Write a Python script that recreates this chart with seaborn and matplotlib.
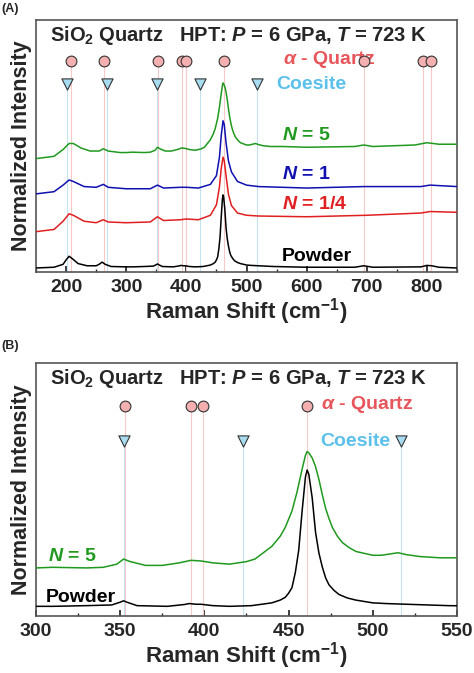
import numpy as np
import pandas as pd
import seaborn as sns
import matplotlib
matplotlib.use("Agg")
import matplotlib.pyplot as plt
from matplotlib.ticker import MultipleLocator

sns.set_theme(style="white")
plt.rcParams['font.family'] = ['Liberation Sans', 'DejaVu Sans']
plt.rcParams['font.weight'] = 'bold'
plt.rcParams['mathtext.fontset'] = 'custom'
plt.rcParams['mathtext.it'] = 'Liberation Sans:italic:bold'
plt.rcParams['mathtext.rm'] = 'Liberation Sans:bold'
plt.rcParams['mathtext.bf'] = 'Liberation Sans:bold'

# normalized spectra (peak at 461 = 1)
powder_x = [150,180,195,200,205,210,220,235,250,255,260,265,275,300,310,330,345,350,352,354,360,378,388,391,395,398,405,415,428,440,445,448,450,452,454,456,458,460,461,462,464,466,468,470,472,474,477,480,485,490,495,500,508,520,545,600,680,695,710,790,800,808,820,850]
powder_y = [0.0,0.01,0.05,0.11,0.16,0.13,0.06,0.03,0.03,0.05,0.08,0.05,0.02,0.015,0.015,0.02,0.025,0.045,0.055,0.045,0.02,0.015,0.028,0.035,0.03,0.03,0.02,0.015,0.02,0.04,0.06,0.08,0.11,0.15,0.26,0.42,0.7,0.95,1.0,0.97,0.8,0.55,0.4,0.3,0.22,0.17,0.13,0.1,0.075,0.06,0.05,0.04,0.035,0.03,0.02,0.01,0.01,0.03,0.01,0.015,0.035,0.03,0.01,0.0]
n5_x = [150,180,195,205,212,225,240,255,262,270,290,300,310,330,340,348,352,356,365,375,385,392,398,405,415,425,430,435,440,445,448,452,455,458,460,461,462,464,466,468,470,472,474,476,479,482,486,490,495,500,505,510,515,520,528,540,560,600,680,695,710,780,800,820,850]
n5_y = [0.0,0.03,0.12,0.2,0.2,0.14,0.1,0.1,0.13,0.1,0.08,0.08,0.085,0.08,0.085,0.11,0.15,0.13,0.1,0.1,0.12,0.14,0.135,0.12,0.11,0.13,0.15,0.2,0.25,0.33,0.4,0.53,0.68,0.86,0.97,1.0,0.99,0.95,0.88,0.78,0.66,0.55,0.47,0.4,0.33,0.28,0.24,0.21,0.195,0.18,0.18,0.19,0.2,0.185,0.17,0.16,0.16,0.15,0.16,0.18,0.16,0.18,0.21,0.19,0.19]
n1_x = [150,180,195,205,212,230,250,262,270,300,340,352,362,390,400,420,440,450,455,458,461,463,466,470,475,485,500,520,600,695,790,805,850]
n1_y = [0.0,0.03,0.12,0.19,0.17,0.1,0.09,0.13,0.09,0.07,0.07,0.12,0.08,0.09,0.09,0.08,0.13,0.25,0.5,0.8,1.0,0.95,0.7,0.45,0.3,0.17,0.12,0.1,0.08,0.1,0.1,0.12,0.1]
n14_x = [150,180,195,205,212,230,250,262,270,300,340,352,362,390,400,420,440,450,455,458,461,463,466,470,475,485,500,520,600,700,790,805,850]
n14_y = [0.0,0.03,0.14,0.24,0.22,0.14,0.12,0.16,0.13,0.12,0.13,0.2,0.15,0.16,0.17,0.16,0.22,0.36,0.6,0.85,1.0,0.95,0.75,0.5,0.35,0.25,0.22,0.21,0.2,0.22,0.25,0.27,0.26]

quartz_a = [208,263,353,392,400,462,695,794,807]
coesite_a = [201,268,352,423,517]
quartz_b = [353,392,399,461]
coesite_b = [352,423,517]

c_green, c_blue, c_red, c_black = '#1f9a1f', '#1010b0', '#e02020', 'black'
c_c = '#5bc0eb'
c_qfill, c_cfill = '#f4b0b0', '#a8dcf0'

fig = plt.figure(figsize=(4.74, 6.73), dpi=100)
axA = fig.add_axes([36/474, 1-272/673, 421/474, 252/673])
axB = fig.add_axes([36/474, 1-616/673, 421/474, 253/673])

def draw(ax, specs, quartz, coes, qy, cy, xlim):
    for q in quartz:
        ax.plot([q, q], [0, qy], color='#f6c8c8', lw=0.8, zorder=1)
    for c in coes:
        ax.plot([c, c], [0, cy], color='#c4e2f0', lw=0.8, zorder=1)
    for x, y, base, sc, col in specs:
        d = pd.DataFrame({'x': x, 'y': base + sc*np.array(y)})
        sns.lineplot(data=d, x='x', y='y', ax=ax, color=col, lw=1.1, zorder=3)
    sns.scatterplot(x=quartz, y=[qy]*len(quartz), ax=ax, marker='o', s=60,
                    color=c_qfill, edgecolor='#333333', linewidth=0.8, zorder=4)
    sns.scatterplot(x=coes, y=[cy]*len(coes), ax=ax, marker='v', s=65,
                    color=c_cfill, edgecolor='#333333', linewidth=0.8, zorder=4)
    ax.set_xlim(*xlim); ax.set_ylim(0, 1)
    ax.set_yticks([])
    ax.set_xlabel('Raman Shift (cm$^{\\mathbf{-1}}$)', fontsize=16, fontweight='bold', labelpad=0)
    ax.set_ylabel('Normalized Intensity', fontsize=15.5, fontweight='bold', labelpad=3)
    ax.tick_params(axis='x', direction='in', length=4, which='major', labelsize=14, bottom=True, pad=5)
    ax.tick_params(axis='x', direction='in', length=2.5, which='minor', bottom=True)
    for s in ax.spines.values():
        s.set_color('#555555'); s.set_linewidth(1.2)
    ax.text(0.033, 0.94, 'SiO$_\\mathbf{2}$ Quartz   HPT: $P$ = 6 GPa, $T$ = 723 K',
            transform=ax.transAxes, fontsize=14.5, fontweight='bold', va='center')

draw(axA, [(powder_x, powder_y, 0.016, 0.29, c_black),
           (n14_x, n14_y, 0.16, 0.296, c_red),
           (n1_x, n1_y, 0.31, 0.29, c_blue),
           (n5_x, n5_y, 0.45, 0.30, c_green)],
     quartz_a, coesite_a, 0.837, 0.746, (150, 850))
axA.xaxis.set_major_locator(MultipleLocator(100))
axA.xaxis.set_minor_locator(MultipleLocator(50))
axA.text(561, 0.845, '$\\alpha$ - Quartz', color='#e8555a', fontsize=14, fontweight='bold', va='center')
axA.text(550, 0.746, 'Coesite', color=c_c, fontsize=14, fontweight='bold', va='center')
axA.text(559, 0.54, '$N$ = 5', color=c_green, fontsize=14, fontweight='bold', va='center')
axA.text(559, 0.385, '$N$ = 1', color=c_blue, fontsize=14, fontweight='bold', va='center')
axA.text(559, 0.266, '$N$ = 1/4', color=c_red, fontsize=14, fontweight='bold', va='center')
axA.text(559, 0.06, 'Powder', color='black', fontsize=14, fontweight='bold', va='center')

draw(axB, [(powder_x, powder_y, 0.03, 0.547, c_black),
           (n5_x, n5_y, 0.15, 0.50, c_green)],
     quartz_b, coesite_b, 0.83, 0.69, (300, 550))
axB.xaxis.set_major_locator(MultipleLocator(50))
axB.xaxis.set_minor_locator(MultipleLocator(25))
axB.text(469, 0.835, '$\\alpha$ - Quartz', color='#e8555a', fontsize=14, fontweight='bold', va='center')
axB.text(469, 0.69, 'Coesite', color=c_c, fontsize=14, fontweight='bold', va='center')
axB.text(307, 0.235, '$N$ = 5', color=c_green, fontsize=14, fontweight='bold', va='center')
axB.text(306, 0.075, 'Powder', color='black', fontsize=14, fontweight='bold', va='center')

fig.text(0.002, 0.995, '(A)', fontsize=9, fontweight='bold', va='top')
fig.text(0.002, 1-340/673, '(B)', fontsize=9, fontweight='bold', va='top')
fig.savefig('out.png', dpi=100)
